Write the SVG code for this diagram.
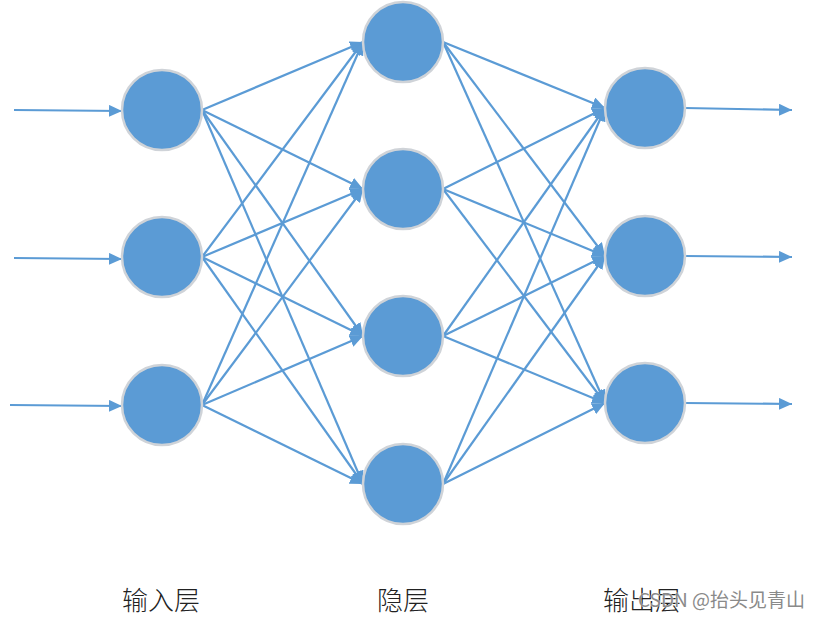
<svg xmlns="http://www.w3.org/2000/svg" width="816" height="619" viewBox="0 0 816 619">
<style>
.node{fill:#5b9bd5;stroke:#cfd3d8;stroke-width:2.5}
.edge{stroke:#5b9bd5;stroke-width:2.2;fill:none;marker-end:url(#ah)}
.lbl{font-family:"Noto Sans CJK SC","Noto Sans CJK JP",sans-serif;font-size:26px;font-weight:300;fill:#222}
.wm{font-family:"Noto Sans CJK SC","Liberation Sans",sans-serif;font-size:19px;fill:#8a8a8a;stroke:#ffffff;stroke-width:0.6;paint-order:stroke}
</style>
<defs>
<marker id="ah" markerUnits="userSpaceOnUse" markerWidth="14" markerHeight="12" refX="13" refY="6" orient="auto">
<path d="M0,0 L13,6 L0,12 Z" fill="#5b9bd5"/>
</marker>
</defs>
<rect width="816" height="619" fill="#ffffff"/>
<g id="connectors">
<line class="edge" x1="14" y1="110" x2="122" y2="111"/>
<line class="edge" x1="14" y1="258" x2="122" y2="259"/>
<line class="edge" x1="10" y1="405" x2="122" y2="406"/>
<line class="edge" x1="202" y1="110" x2="363" y2="42"/>
<line class="edge" x1="202" y1="110" x2="363" y2="189"/>
<line class="edge" x1="202" y1="110" x2="363" y2="336"/>
<line class="edge" x1="202" y1="110" x2="363" y2="484"/>
<line class="edge" x1="202" y1="257" x2="363" y2="42"/>
<line class="edge" x1="202" y1="257" x2="363" y2="189"/>
<line class="edge" x1="202" y1="257" x2="363" y2="336"/>
<line class="edge" x1="202" y1="257" x2="363" y2="484"/>
<line class="edge" x1="202" y1="405" x2="363" y2="42"/>
<line class="edge" x1="202" y1="405" x2="363" y2="189"/>
<line class="edge" x1="202" y1="405" x2="363" y2="336"/>
<line class="edge" x1="202" y1="405" x2="363" y2="484"/>
<line class="edge" x1="443" y1="42" x2="605" y2="108"/>
<line class="edge" x1="443" y1="42" x2="605" y2="256"/>
<line class="edge" x1="443" y1="42" x2="605" y2="403"/>
<line class="edge" x1="443" y1="189" x2="605" y2="108"/>
<line class="edge" x1="443" y1="189" x2="605" y2="256"/>
<line class="edge" x1="443" y1="189" x2="605" y2="403"/>
<line class="edge" x1="443" y1="336" x2="605" y2="108"/>
<line class="edge" x1="443" y1="336" x2="605" y2="256"/>
<line class="edge" x1="443" y1="336" x2="605" y2="403"/>
<line class="edge" x1="443" y1="484" x2="605" y2="108"/>
<line class="edge" x1="443" y1="484" x2="605" y2="256"/>
<line class="edge" x1="443" y1="484" x2="605" y2="403"/>
<line class="edge" x1="685" y1="108" x2="792" y2="110"/>
<line class="edge" x1="685" y1="256" x2="792" y2="257"/>
<line class="edge" x1="685" y1="403" x2="792" y2="404"/>
</g>
<g id="in1"><circle class="node" cx="162" cy="110" r="40"/></g>
<g id="in2"><circle class="node" cx="162" cy="257" r="40"/></g>
<g id="in3"><circle class="node" cx="162" cy="405" r="40"/></g>
<g id="h1"><circle class="node" cx="403" cy="42" r="40"/></g>
<g id="h2"><circle class="node" cx="403" cy="189" r="40"/></g>
<g id="h3"><circle class="node" cx="403" cy="336" r="40"/></g>
<g id="h4"><circle class="node" cx="403" cy="484" r="40"/></g>
<g id="out1"><circle class="node" cx="645" cy="108" r="40"/></g>
<g id="out2"><circle class="node" cx="645" cy="256" r="40"/></g>
<g id="out3"><circle class="node" cx="645" cy="403" r="40"/></g>
<g id="labels">
<text class="lbl" x="122" y="610">输入层</text>
<text class="lbl" x="377" y="610">隐层</text>
<text class="lbl" x="603" y="610">输出层</text>
<text class="wm" x="638" y="607">CSDN @抬头见青山</text>
</g>
</svg>
